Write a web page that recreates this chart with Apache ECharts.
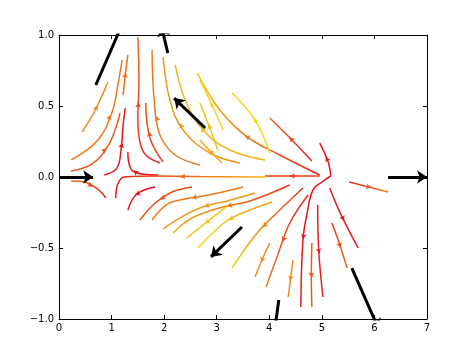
<!DOCTYPE html>
<html>
<head>
<meta charset="utf-8">
<script src="https://cdn.jsdelivr.net/npm/echarts@6/dist/echarts.min.js"></script>
<style>
html, body { margin: 0; padding: 0; background: #fff; }
#chart { width: 474px; height: 355px; }
</style>
</head>
<body>
<div id="chart"></div>
<script>
// streamlines as [x, y] points
const s01 = [[0.44, 0.317], [0.68, 0.465], [0.93, 0.669]]
const s02 = [[0.23, 0.120], [0.74, 0.261], [1.01, 0.458], [1.12, 0.648], [1.20, 0.824]]
const s03 = [[0.23, 0.042], [0.63, 0.092], [0.93, 0.218], [1.10, 0.366], [1.16, 0.451]]
const s04 = [[1.22, 0.577], [1.26, 0.718], [1.31, 0.859]]
const s05 = [[0.86, 0.014], [1.10, 0.063], [1.18, 0.190], [1.22, 0.366], [1.26, 0.486]]
const s06 = [[1.50, 0.986], [1.52, 0.683], [1.50, 0.401], [1.54, 0.246], [1.65, 0.155], [1.92, 0.099]]
const s07 = [[1.31, 0.176], [1.35, 0.070], [1.48, 0.028], [1.88, 0.014]]
const s08 = [[1.65, 0.521], [1.73, 0.275], [1.98, 0.106]]
const s09 = [[1.77, 0.894], [1.81, 0.542], [1.92, 0.296], [2.21, 0.155], [2.68, 0.085]]
const s10 = [[1.98, 0.845], [2.11, 0.542], [2.36, 0.331], [2.87, 0.169], [3.44, 0.099]]
const s11 = [[2.21, 0.789], [2.40, 0.542], [2.74, 0.331], [3.25, 0.190], [3.92, 0.120]]
const s12 = [[2.63, 0.732], [3.06, 0.472], [3.58, 0.282], [4.20, 0.155], [4.96, 0.014]]
const s13 = [[3.29, 0.592], [3.73, 0.401], [4.01, 0.169]]
const s14 = [[4.01, 0.415], [4.43, 0.261], [4.81, 0.113]]
const s15 = [[2.68, 0.683], [2.91, 0.507], [3.12, 0.331]]
const s16 = [[2.68, 0.521], [2.87, 0.345], [3.02, 0.190]]
const s17 = [[2.68, 0.261], [2.91, 0.169], [3.10, 0.099]]
const s18 = [[1.08, -0.148], [1.12, -0.049], [1.24, 0], [1.92, 0.007], [2.68, 0.003], [3.92, 0]]
const s19 = [[3.92, 0.007], [4.96, 0.007]]
const s20 = [[0.23, -0.028], [0.48, -0.035], [0.76, -0.092], [0.89, -0.148]]
const s21 = [[1.31, -0.232], [1.48, -0.120], [1.83, -0.070]]
const s22 = [[1.54, -0.303], [1.83, -0.183], [2.15, -0.106], [2.53, -0.070]]
const s23 = [[1.77, -0.303], [2.07, -0.190], [2.40, -0.155], [2.93, -0.120], [3.50, -0.070]]
const s24 = [[1.98, -0.366], [2.36, -0.275], [2.78, -0.204], [3.20, -0.169], [3.73, -0.113]]
const s25 = [[2.17, -0.394], [2.53, -0.289], [3.12, -0.211], [3.63, -0.169], [4.39, -0.056]]
const s26 = [[2.43, -0.430], [2.74, -0.338], [3.21, -0.204]]
const s27 = [[2.64, -0.500], [3.16, -0.317], [3.44, -0.261], [4.05, -0.176]]
const s28 = [[3.29, -0.641], [3.77, -0.394], [4.20, -0.232], [4.64, -0.077]]
const s29 = [[3.73, -0.704], [3.86, -0.585], [4.01, -0.465]]
const s30 = [[3.94, -0.775], [4.16, -0.549], [4.39, -0.324], [4.74, -0.127]]
const s31 = [[4.36, -0.845], [4.45, -0.585]]
const s32 = [[4.96, 0.239], [5.12, 0.106], [5.17, 0.007]]
const s33 = [[5.17, 0.007], [5.00, -0.035], [4.83, -0.092], [4.72, -0.254], [4.64, -0.444], [4.60, -0.915]]
const s34 = [[4.81, -0.465], [4.80, -0.700], [4.81, -0.915]]
const s35 = [[4.92, -0.197], [4.94, -0.514], [5.02, -0.845]]
const s36 = [[5.15, -0.077], [5.35, -0.254], [5.69, -0.500]]
const s37 = [[5.19, -0.324], [5.31, -0.444], [5.48, -0.641]]
const s38 = [[5.52, -0.035], [6.26, -0.106]]

const streams = [s01, s02, s03, s04, s05, s06, s07, s08, s09, s10, s11, s12, s13, s14, s15, s16, s17, s18, s19,
  s20, s21, s22, s23, s24, s25, s26, s27, s28, s29, s30, s31, s32, s33, s34, s35, s36, s37, s38]

// flow direction of each line: 1 = along the point order, -1 = against it
const streamFlow = [1, 1, 1, 1, 1, -1, -1, -1, -1, -1, -1, -1, -1, -1, -1, -1, -1, -1, -1, 1,
  -1, -1, -1, -1, -1, -1, -1, -1, -1, -1, -1, -1, 1, 1, 1, 1, 1, 1]

// colour of each streamline (one colour, or start/end colour)
const streamColors = [
  '#f08a22', '#f07a1e', '#ec5a1a', '#ee6a1c', '#e8141c', ['#ee6a1c', '#e8201c'], '#e8141c', '#ec4a18',
  '#f07a1c', '#f29418', '#f4b416', ['#f2cc12', '#e8201c'], '#f0d812', ['#ee6a1c', '#e81a1c'], '#f2d412',
  '#f4c014', '#f2a816', ['#e8141c', '#f4c014'], '#ea3a18', ['#ee6a1c', '#e8201c'], '#e8161c', '#ec4c18',
  '#f07818', '#f29a18', ['#f4b416', '#e8301a'], '#f4c412', ['#f2dc10', '#f0a016'], ['#f2e010', '#e82a1a'],
  '#f08a1c', ['#f07a1c', '#e8201c'], '#f08a1c', '#e8141c', '#e8141c', '#ee5a18', '#e8201c', '#e8161c',
  ['#e8301a', '#ee6a1c'], ['#e8201c', '#f08a1c']
]

// black quiver arrows (tail -> head)
const quiverStart = [[0, 0], [6.26, 0], [2.78, 0.345], [3.48, -0.352], [0.70, 0.648], [2.07, 0.873], [4.18, -0.866], [5.57, -0.641]]
const quiverEnd = [[0.65, 0], [7.0, 0], [2.19, 0.556], [2.89, -0.563], [1.22, 1.09], [1.95, 1.06], [4.10, -1.09], [6.08, -1.07]]

const xTicks = [0, 1, 2, 3, 4, 5, 6, 7]
const yTicks = [-1.0, -0.5, 0.0, 0.5, 1.0]

// px per data unit, only used to find the middle of a line
const SX = 52.6
const SY = 142

function lineColor(pts, c) {
  if (typeof c === 'string') return c
  const a = pts[0]
  const b = pts[pts.length - 1]
  const x0 = a[0] <= b[0] ? 0 : 1
  const y0 = a[1] >= b[1] ? 0 : 1
  return new echarts.graphic.LinearGradient(x0, y0, 1 - x0, 1 - y0, [
    { offset: 0, color: c[0] },
    { offset: 1, color: c[1] }
  ])
}

function midColor(c) {
  if (typeof c === 'string') return c
  const p = h => [1, 3, 5].map(k => parseInt(h.substr(k, 2), 16))
  const a = p(c[0])
  const b = p(c[1])
  return 'rgb(' + a.map((v, k) => Math.round((v + b[k]) / 2)).join(',') + ')'
}

// small arrow head in the middle of a streamline
function midArrow(pts, dir) {
  const lens = []
  let total = 0
  for (let i = 1; i < pts.length; i++) {
    const l = Math.hypot((pts[i][0] - pts[i - 1][0]) * SX, (pts[i][1] - pts[i - 1][1]) * SY)
    lens.push(l)
    total += l
  }
  let half = total / 2
  let i = 0
  while (i < lens.length - 1 && half > lens[i]) {
    half -= lens[i]
    i++
  }
  const a = pts[i]
  const b = pts[i + 1]
  const t = half / lens[i]
  const d = 2 / lens[i]
  const at = k => [a[0] + (b[0] - a[0]) * k, a[1] + (b[1] - a[1]) * k]
  return [at(t - d * dir), at(t + d * dir)]
}

const fmtNum = v => (v < 0 ? '\u2212' : '') + Math.abs(v).toFixed(1)

const myChart = echarts.init(document.getElementById('chart'))

const axisCommon = {
  type: 'value',
  splitLine: { show: false },
  axisLine: { show: true, onZero: false, lineStyle: { color: '#000', width: 1 } },
  axisTick: { show: true, inside: true, length: 4, lineStyle: { color: '#000' } }
}

const series = streams.map((pts, i) => ({
  type: 'line',
  data: pts,
  smooth: 0.4,
  showSymbol: false,
  symbol: 'none',
  silent: true,
  lineStyle: { width: 1.5, color: lineColor(pts, streamColors[i]) },
  z: 2
}))

// arrow heads on the streamlines
series.push({
  type: 'lines',
  coordinateSystem: 'cartesian2d',
  symbol: ['none', 'arrow'],
  symbolSize: 4.5,
  silent: true,
  data: streams.map((pts, i) => ({
    coords: midArrow(pts, streamFlow[i]),
    lineStyle: { color: midColor(streamColors[i]), width: 1.5, opacity: 1 }
  })),
  z: 3
})

series.push({
  type: 'lines',
  coordinateSystem: 'cartesian2d',
  clip: true,
  symbol: ['none', 'arrow'],
  symbolSize: 10,
  silent: true,
  lineStyle: { color: '#000', width: 3, opacity: 1 },
  data: quiverStart.map((s, i) => ({ coords: [s, quiverEnd[i]] })),
  z: 5
})

myChart.setOption({
  animation: false,
  grid: { left: 59, right: 47, top: 35, bottom: 36 },
  xAxis: [
    Object.assign({}, axisCommon, {
      position: 'bottom', min: 0, max: 7, interval: 1,
      axisLabel: { color: '#000', fontSize: 10, fontFamily: 'DejaVu Sans', margin: 4,
        formatter: v => (xTicks.indexOf(v) >= 0 ? String(v) : '') }
    }),
    Object.assign({}, axisCommon, {
      position: 'top', min: 0, max: 7, interval: 1, axisLabel: { show: false }
    })
  ],
  yAxis: [
    Object.assign({}, axisCommon, {
      position: 'left', min: -1, max: 1, interval: 0.5,
      axisLabel: { color: '#000', fontSize: 10, fontFamily: 'DejaVu Sans', margin: 5,
        formatter: v => (yTicks.indexOf(v) >= 0 ? fmtNum(v) : '') }
    }),
    Object.assign({}, axisCommon, {
      position: 'right', min: -1, max: 1, interval: 0.5, axisLabel: { show: false }
    })
  ],
  series: series
})
</script>
</body>
</html>
